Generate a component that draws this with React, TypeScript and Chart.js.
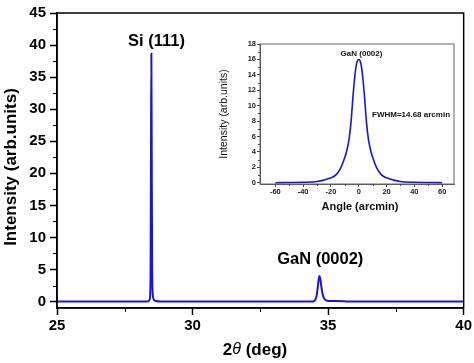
import React, { useEffect, useRef } from 'react';
import { Chart, registerables } from 'chart.js';

Chart.register(...registerables);

// ---- Main XRD scan ----
const mainTwoTheta = [25, 28.30, 28.38, 28.42, 28.45, 28.465, 28.48, 28.495, 28.51, 28.54, 28.58, 28.66, 28.80, 34.40, 34.47, 34.53, 34.58, 34.62, 34.65, 34.68, 34.71, 34.74, 34.78, 34.83, 34.89, 34.97, 35.10, 35.30, 35.55, 35.70, 40];
const mainIntensity = [0, 0, 0.05, 0.4, 3.5, 20, 38.7, 22, 5, 0.8, 0.25, 0.08, 0, 0, 0.05, 0.3, 1.0, 2.3, 3.4, 4.0, 3.6, 2.7, 1.5, 0.7, 0.3, 0.12, 0.08, 0.1, 0.07, 0, 0];
const mainXTicks = [25, 30, 35, 40];
const mainYTicks = [0, 5, 10, 15, 20, 25, 30, 35, 40, 45];
const peakLabels = ['Si (111)', 'GaN (0002)'];
const peakLabelX = [28.67, 34.71];
const peakLabelY = [40.6, 6.5];

// ---- Inset rocking curve ----
const insetAngle = [-60, -50, -40, -30, -25, -20, -16, -13, -11, -9, -7, -5.5, -4, -3, -2, -1, 0, 1, 2, 3, 4, 5.5, 7, 9, 11, 13, 16, 20, 25, 30, 40, 50, 60];
const insetIntensity = [0.02, 0.04, 0.07, 0.17, 0.35, 0.65, 1.1, 1.9, 2.8, 3.9, 5.6, 8, 11.5, 13.5, 15, 15.8, 16, 15.8, 15, 13.5, 11.5, 8, 5.6, 3.9, 2.8, 1.9, 1.1, 0.65, 0.35, 0.17, 0.07, 0.04, 0.02];
const insetXTicks = [-60, -40, -20, 0, 20, 40, 60];
const insetYTicks = [0, 2, 4, 6, 8, 10, 12, 14, 16, 18];

const FONT = '"Liberation Sans", Arial, Helvetica, sans-serif';
const BLUE = '#1616dc';

type Extra = {
  frameColor: string;
  frameWidth: number;
  minorLen: number;
  minorColor: string;
  xMajors: number[];
  yMajors: number[];
  draw: (chart: any, ctx: CanvasRenderingContext2D) => void;
};

function mids(arr: number[]) {
  const out: number[] = [];
  for (let i = 0; i < arr.length - 1; i++) out.push((arr[i] + arr[i + 1]) / 2);
  return out;
}

function extrasPlugin(e: Extra) {
  return {
    id: 'extras',
    afterDraw(chart: any) {
      const ctx: CanvasRenderingContext2D = chart.ctx;
      const a = chart.chartArea;
      const xs = chart.scales.x;
      const ys = chart.scales.y;
      ctx.save();
      ctx.strokeStyle = e.frameColor;
      ctx.lineWidth = e.frameWidth;
      ctx.strokeRect(a.left, a.top, a.right - a.left, a.bottom - a.top);
      ctx.strokeStyle = e.minorColor;
      ctx.lineWidth = 1;
      ctx.beginPath();
      mids(e.xMajors).forEach((v) => {
        const px = Math.round(xs.getPixelForValue(v)) + 0.5;
        ctx.moveTo(px, a.bottom);
        ctx.lineTo(px, a.bottom + e.minorLen);
      });
      mids(e.yMajors).forEach((v) => {
        const py = Math.round(ys.getPixelForValue(v)) + 0.5;
        ctx.moveTo(a.left, py);
        ctx.lineTo(a.left - e.minorLen, py);
      });
      ctx.stroke();
      ctx.restore();
      ctx.save();
      e.draw(chart, ctx);
      ctx.restore();
    },
  };
}

export default function App() {
  const mainRef = useRef<HTMLCanvasElement>(null);
  const insetRef = useRef<HTMLCanvasElement>(null);

  useEffect(() => {
    const mainChart = new Chart(mainRef.current as HTMLCanvasElement, {
      type: 'line',
      data: {
        datasets: [
          {
            data: mainTwoTheta.map((x, i) => ({ x, y: mainIntensity[i] })),
            borderColor: BLUE,
            borderWidth: 2,
            pointRadius: 0,
            cubicInterpolationMode: 'monotone',
            fill: false,
          },
        ],
      },
      options: {
        responsive: false,
        animation: false,
        devicePixelRatio: 1,
        layout: { autoPadding: false, padding: { left: 0, top: 10, right: 10, bottom: 0 } },
        plugins: { legend: { display: false }, tooltip: { enabled: false } },
        scales: {
          x: {
            type: 'linear',
            min: 25,
            max: 40,
            afterBuildTicks: (s: any) => {
              s.ticks = mainXTicks.map((v) => ({ value: v }));
            },
            afterFit: (s: any) => {
              s.height = 55;
            },
            ticks: { color: '#000', font: { family: FONT, weight: 'bold', size: 15 }, padding: 2, maxRotation: 0 },
            grid: { drawOnChartArea: false, drawTicks: true, tickLength: 7, tickWidth: 1.5, tickColor: '#000' },
            border: { display: true, color: '#000', width: 1.5 },
          },
          y: {
            type: 'linear',
            min: -1,
            max: 45,
            afterBuildTicks: (s: any) => {
              s.ticks = mainYTicks.map((v) => ({ value: v }));
            },
            afterFit: (s: any) => {
              s.width = 57;
            },
            ticks: { color: '#000', font: { family: FONT, weight: 'bold', size: 15 }, padding: 4 },
            grid: { drawOnChartArea: false, drawTicks: true, tickLength: 7, tickWidth: 1.5, tickColor: '#000' },
            border: { display: true, color: '#000', width: 1.5 },
          },
        },
      } as any,
      plugins: [
        extrasPlugin({
          frameColor: '#000',
          frameWidth: 1.5,
          minorLen: 4,
          minorColor: '#000',
          xMajors: mainXTicks,
          yMajors: mainYTicks,
          draw: (chart, ctx) => {
            const xs = chart.scales.x;
            const ys = chart.scales.y;
            ctx.fillStyle = '#000';
            ctx.textAlign = 'center';
            ctx.textBaseline = 'middle';
            ctx.font = `bold 16.5px ${FONT}`;
            peakLabels.forEach((t, i) => {
              ctx.fillText(t, xs.getPixelForValue(peakLabelX[i]), ys.getPixelForValue(peakLabelY[i]));
            });
            // y title
            ctx.save();
            ctx.translate(11, 167);
            ctx.rotate(-Math.PI / 2);
            ctx.font = `bold 17px ${FONT}`;
            ctx.fillText('Intensity (arb.units)', 0, 0);
            ctx.restore();
            // x title with italic theta
            const parts: [string, string][] = [
              ['2', `bold 17px ${FONT}`],
              ['\u03B8', `italic 16px ${FONT}`],
              [' (deg)', `bold 17px ${FONT}`],
            ];
            let total = 0;
            const widths = parts.map(([t, f]) => {
              ctx.font = f;
              const w = ctx.measureText(t).width;
              total += w;
              return w;
            });
            let x0 = 255 - total / 2;
            ctx.textAlign = 'left';
            parts.forEach(([t, f], i) => {
              ctx.font = f;
              ctx.fillText(t, x0, 350);
              x0 += widths[i];
            });
          },
        }),
      ],
    });

    const insetChart = new Chart(insetRef.current as HTMLCanvasElement, {
      type: 'line',
      data: {
        datasets: [
          {
            data: insetAngle.map((x, i) => ({ x, y: insetIntensity[i] })),
            borderColor: BLUE,
            borderWidth: 1.6,
            pointRadius: 0,
            cubicInterpolationMode: 'monotone',
            fill: false,
          },
        ],
      },
      options: {
        responsive: false,
        animation: false,
        devicePixelRatio: 1,
        layout: { autoPadding: false, padding: { left: 0, top: 44, right: 20, bottom: 0 } },
        plugins: { legend: { display: false }, tooltip: { enabled: false } },
        scales: {
          x: {
            type: 'linear',
            min: -71,
            max: 68.5,
            afterBuildTicks: (s: any) => {
              s.ticks = insetXTicks.map((v) => ({ value: v }));
            },
            afterFit: (s: any) => {
              s.height = 179;
            },
            ticks: { color: '#222', font: { family: FONT, weight: 'bold', size: 7.5 }, padding: 0, maxRotation: 0 },
            grid: { drawOnChartArea: false, drawTicks: true, tickLength: 3, tickWidth: 1, tickColor: '#444' },
            border: { display: true, color: '#555', width: 1 },
          },
          y: {
            type: 'linear',
            min: -0.15,
            max: 18,
            afterBuildTicks: (s: any) => {
              s.ticks = insetYTicks.map((v) => ({ value: v }));
            },
            afterFit: (s: any) => {
              s.width = 260;
            },
            ticks: { color: '#222', font: { family: FONT, weight: 'bold', size: 7.5 }, padding: 1 },
            grid: { drawOnChartArea: false, drawTicks: true, tickLength: 3, tickWidth: 1, tickColor: '#444' },
            border: { display: true, color: '#555', width: 1 },
          },
        },
      } as any,
      plugins: [
        extrasPlugin({
          frameColor: '#666',
          frameWidth: 1,
          minorLen: 2,
          minorColor: '#444',
          xMajors: insetXTicks,
          yMajors: insetYTicks,
          draw: (chart, ctx) => {
            ctx.fillStyle = '#111';
            ctx.textBaseline = 'middle';
            ctx.textAlign = 'center';
            ctx.font = `bold 8px ${FONT}`;
            ctx.fillText('GaN (0002)', 361.5, 53.5);
            ctx.textAlign = 'left';
            ctx.fillText('FWHM=14.68 arcmin', 372, 114.5);
            ctx.textAlign = 'center';
            ctx.font = `bold 11px ${FONT}`;
            ctx.fillText('Angle (arcmin)', 360, 206.5);
            ctx.save();
            ctx.translate(224, 114);
            ctx.rotate(-Math.PI / 2);
            ctx.font = `10.5px ${FONT}`;
            ctx.fillText('Intensity (arb.units)', 0, 0);
            ctx.restore();
          },
        }),
      ],
    });

    return () => {
      mainChart.destroy();
      insetChart.destroy();
    };
  }, []);

  return (
    <div style={{ position: 'fixed', left: 0, top: 0, width: 474, height: 363, background: '#fff' }}>
      <canvas ref={mainRef} width={474} height={363} style={{ position: 'absolute', left: 0, top: 0, display: 'block' }} />
      <canvas ref={insetRef} width={474} height={363} style={{ position: 'absolute', left: 0, top: 0, display: 'block' }} />
    </div>
  );
}
